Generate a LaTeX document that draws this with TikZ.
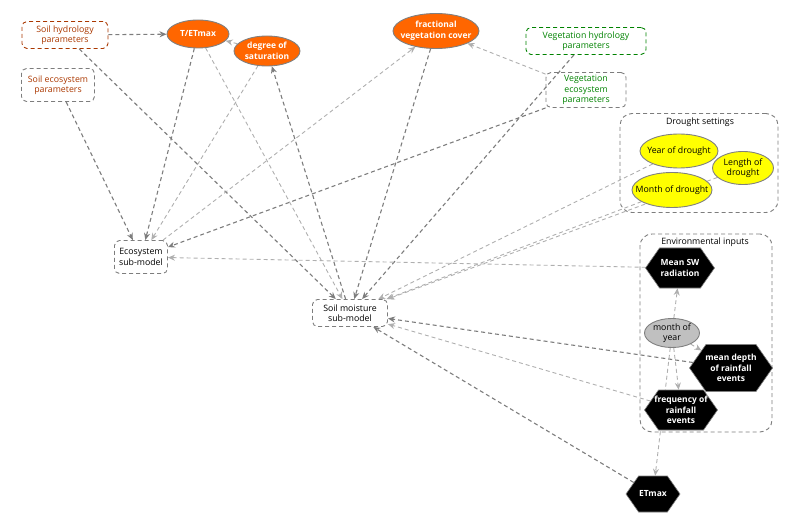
\documentclass[tikz,border=0pt]{standalone}
\usepackage{fontspec}
\setmainfont{Open Sans}
\usetikzlibrary{arrows.meta,shapes.geometric,shapes.symbols}
\definecolor{soilc}{RGB}{170,55,0}
\definecolor{vegc}{RGB}{0,130,0}
\definecolor{orng}{RGB}{255,102,0}
\definecolor{dk}{RGB}{125,125,125}
\definecolor{lt}{RGB}{175,175,175}
\definecolor{yel}{RGB}{255,255,0}
\definecolor{moyc}{RGB}{192,192,192}
\pgfdeclarelayer{bg}
\pgfsetlayers{bg,main}
\begin{document}
\begin{tikzpicture}[x=1bp,y=-1bp,
  font=\fontsize{8.8}{10.5}\selectfont,
  box/.style={draw=dk, dash pattern=on 4bp off 3bp, rounded corners=5bp, align=center, inner sep=1bp, line width=0.9bp},
  grp/.style={draw=dk, dash pattern=on 4bp off 3bp, rounded corners=12bp, line width=0.9bp},
  oval/.style={ellipse, draw=gray, line width=0.9bp, fill=orng, inner sep=0pt},
  yoval/.style={ellipse, draw=gray, line width=0.9bp, fill=yel, inner sep=0pt},
  goval/.style={ellipse, draw=gray, line width=0.9bp, fill=moyc, inner sep=0pt},
  hexa/.style={signal, signal to=west and east, signal pointer angle=110, draw=gray, line width=0.6bp, fill=black, inner sep=0pt},
  wtxt/.style={text=white, font=\fontsize{8.5}{10.5}\selectfont\bfseries, align=center},
  btxt/.style={text=black, align=center},
  dkE/.style={draw=dk, line width=1.1bp, dash pattern=on 4bp off 3bp, -{Stealth[length=7bp,width=6bp]}},
  ltE/.style={draw=lt, line width=0.9bp, dash pattern=on 4bp off 3bp, -{Stealth[length=7bp,width=6bp]}}
]
\useasboundingbox (0,0) rectangle (800,527);

% left parameter boxes
\node[box, draw=soilc, text=soilc, minimum width=86bp, minimum height=27bp] (shp) at (65,35) {Soil hydrology\\parameters};
\node[box, text=soilc, minimum width=73bp, minimum height=33bp] (sep) at (58,85) {Soil ecosystem\\parameters};

% orange ellipses
\node[oval, minimum width=62bp, minimum height=28bp, label={[wtxt]center:T/ETmax}] (tet) at (198,34) {};
\node[oval, minimum width=66bp, minimum height=30bp, label={[wtxt]center:degree of\\saturation}] (dos) at (267,51) {};
\node[oval, minimum width=86bp, minimum height=35bp, label={[wtxt]center:fractional\\vegetation cover}] (fvc) at (436,31) {};

% vegetation parameter boxes
\node[box, draw=vegc, text=vegc, minimum width=120bp, minimum height=27bp] (vhp) at (586,41) {Vegetation hydrology\\parameters};
\node[box, text=vegc, minimum width=80bp, minimum height=35bp] (vep) at (586,90) {Vegetation\\ecosystem\\parameters};

% drought settings
\node[grp, minimum width=158bp, minimum height=99bp] (dgrp) at (699,163) {};
\node[btxt] (dtitle) at (700,122) {Drought settings};
\node[yoval, minimum width=78bp, minimum height=34bp, label={[btxt]center:Year of drought}] (yod) at (679,151) {};
\node[yoval, minimum width=61bp, minimum height=33bp, label={[btxt]center:Length of\\drought}] (lod) at (743,168) {};
\node[yoval, minimum width=80bp, minimum height=35bp, label={[btxt]center:Month of drought}] (mod) at (672,190) {};

% environmental inputs
\node[grp, minimum width=132bp, minimum height=198bp] (egrp) at (706,333) {};
\node[btxt] (etitle) at (705,242) {Environmental inputs};
\node[hexa, minimum width=69bp, minimum height=40bp, label={[wtxt]center:Mean SW\\radiation}] (msw) at (680,268) {};
\node[goval, minimum width=55bp, minimum height=29bp, label={[btxt]center:month of\\year}] (moy) at (672,333) {};
\node[hexa, minimum width=83bp, minimum height=47bp, label={[wtxt]center:mean depth\\of rainfall\\events}] (mdr) at (731,368) {};
\node[hexa, minimum width=73bp, minimum height=40bp, label={[wtxt]center:frequency of\\rainfall\\events}] (fre) at (681,410) {};
\node[hexa, minimum width=54bp, minimum height=36bp, label={[wtxt]center:ETmax}] (etm) at (653,494) {};

% sub-models
\node[box, text=black, minimum width=53bp, minimum height=33bp] (eco) at (141,257) {Ecosystem\\sub-model};
\node[box, text=black, minimum width=75bp, minimum height=27bp] (sm) at (350,313) {Soil moisture\\sub-model};

\begin{pgfonlayer}{bg}
% dark edges
\draw[dkE] (shp) -- (tet);
\draw[dkE] (shp) -- (sm);
\draw[dkE] (sm) -- (dos);
\draw[dkE] (fvc) -- (sm);
\draw[dkE] (vep.south west) -- (eco);
\draw[dkE] (vhp) -- (sm);
\draw[dkE] (mdr) -- (sm);
\draw[dkE] (etm) -- (sm);
\draw[dkE] (sep) -- (eco);
\draw[dkE] (tet) -- (eco);
% light edges
\draw[ltE] (dos) -- (tet);
\draw[ltE] (tet) -- (sm);
\draw[ltE] (dos) -- (eco);
\draw[ltE] (eco) -- (fvc);
\draw[ltE] (vep) -- (fvc);
\draw[ltE] (yod) -- (sm);
\draw[ltE] (mod) -- (sm);
\draw[ltE] (lod) -- (sm);
\draw[ltE] (msw) -- (eco);
\draw[ltE] (fre) -- (sm);
\draw[ltE] (moy) -- (msw);
\draw[ltE] (moy) -- (mdr);
\draw[ltE] (moy) -- (fre);
\draw[ltE] (moy) -- (etm);
\end{pgfonlayer}
\end{tikzpicture}
\end{document}
